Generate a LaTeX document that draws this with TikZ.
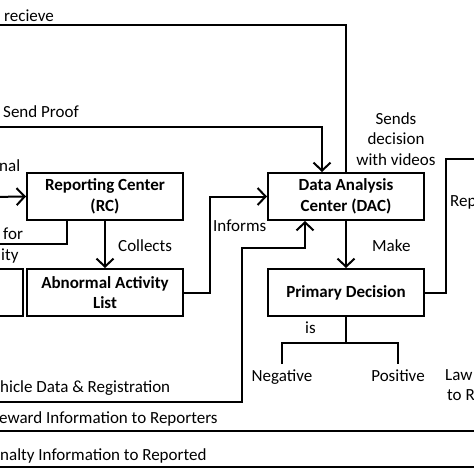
\documentclass[tikz,border=0pt]{standalone}
\usepackage{fontspec}
\setmainfont{Carlito}
\usepackage{tikz}
\usetikzlibrary{arrows.meta}
\newcommand{\sz}{\fontsize{17}{20.7}\selectfont}
\tikzstyle{block} = [rectangle, minimum width=156pt, minimum height=47pt, text centered, align=center, draw=black, line width=2pt, font=\sz\bfseries]
\tikzstyle{arrow} = [line width=2pt, ->, >={Straight Barb[length=8pt,width=17pt]}]
\tikzstyle{wire} = [line width=2pt]
\tikzstyle{lbl} = [inner sep=0pt, anchor=base west]
\begin{document}
\begin{tikzpicture}[x=1pt, y=-1pt, node distance=96pt, font=\sz]
        \useasboundingbox (0,0) rectangle (474,474);
        \clip (0,0) rectangle (474,474);
        \node (rc) [block] at (105,196.5) {Reporting Center\\(RC)};
        \node (aal) [block, below of=rc] {Abnormal Activity\\List};
        \node (regbox) [block, left of=aal, xshift=-64pt] {};
        \node (dac) [block, right of=rc, xshift=145pt] {Data Analysis\\Center (DAC)};
        \node (pd) [block, below of=dac] {Primary Decision};
        \node (recvlbl) [lbl] at (4,21) {recieve};
        \node (prooflbl) [lbl] at (3,117) {Send Proof};
        \node (abnlbl) [lbl] at (-1,171) {nal};
        \node (forlbl) [lbl] at (3,239) {for};
        \node (itylbl) [lbl] at (1,260) {ity};
        \node (collbl) [lbl] at (118,251) {Collects};
        \node (inflbl) [lbl] at (213,231) {Informs};
        \node (sendlbl) [align=center, inner sep=0pt] at (396,139) {Sends\\decision\\with videos};
        \node (makelbl) [lbl] at (372,251) {Make};
        \node (islbl) [lbl] at (305,333) {is};
        \node (neg) [lbl, anchor=base] at (282,381) {Negative};
        \node (pos) [lbl, anchor=base] at (398,381) {Positive};
        \node (lawlbl) [lbl] at (445,380) {Law};
        \node (torlbl) [lbl] at (447,400) {to R};
        \node (replbl) [lbl] at (450,206) {Rep};
        \node (vehlbl) [lbl] at (0,392) {hicle Data \& Registration};
        \node (rwdlbl) [lbl] at (-1,423) {eward Information to Reporters};
        \node (penlbl) [lbl] at (0,460) {nalty Information to Reported};
        \coordinate (recv) at (-10,25);
        \coordinate (proof) at (-10,127);
        \coordinate (abn) at (-10,197);
        \coordinate (req) at (-10,244);
        \coordinate (veh) at (-10,402);
        \coordinate (law) at (484,159);
        \coordinate (rwdL) at (-10,431);
        \coordinate (rwdR) at (484,431);
        \coordinate (penL) at (-10,467);
        \coordinate (penR) at (484,467);
        \draw [wire] (dac.north) |- (recv);
        \draw [arrow] (proof) -| ([xshift=-24pt]dac.north);
        \draw [arrow] (abn) -- (rc.west);
        \draw [wire] ([xshift=-38pt]rc.south) |- (req);
        \draw [arrow] (rc.south) -- (aal.north);
        \draw [arrow] (aal.east) -- ++(26,0) |- (dac.west);
        \draw [arrow] (veh) -- ++(252,0) |- ++(63,-154) -- ([xshift=-41pt]dac.south);
        \draw [arrow] (dac.south) -- (pd.north);
        \draw [wire] (pd.south) -- ++(0,26) coordinate (fork);
        \draw [wire] ([yshift=5pt]neg.north) |- (fork) -| ([yshift=5pt]pos.north);
        \draw [wire] (pd.east) -- ++(21,0) |- (law);
        \draw [wire] (rwdL) -- (rwdR);
        \draw [wire] (penL) -- (penR);
    \end{tikzpicture}
\end{document}
